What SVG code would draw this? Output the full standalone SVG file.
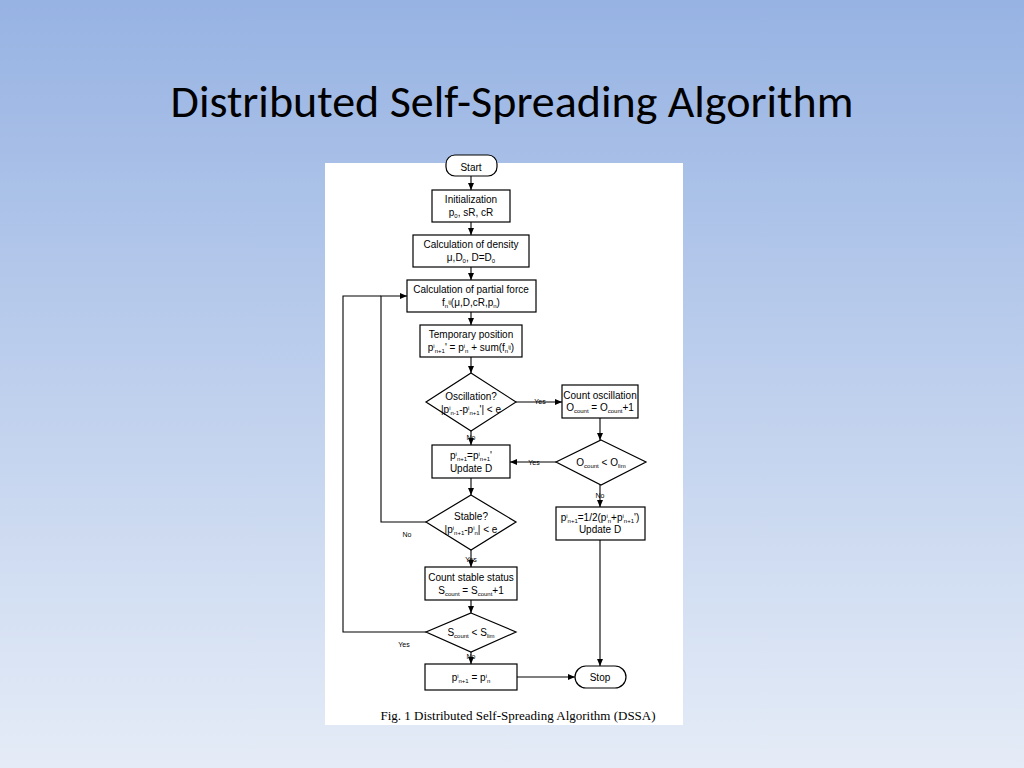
<svg xmlns="http://www.w3.org/2000/svg" width="1024" height="768" viewBox="0 0 1024 768">
<defs>
<linearGradient id="bg" x1="0" y1="0" x2="0" y2="1"><stop offset="0" stop-color="#97b3e3"/><stop offset="1" stop-color="#e5ecf7"/></linearGradient>
<marker id="ar" markerWidth="8" markerHeight="8" refX="7" refY="4" orient="auto" markerUnits="userSpaceOnUse"><path d="M0,1 L7,4 L0,7 z" fill="#000"/></marker>
<style>
.n{fill:#fff;stroke:#000;stroke-width:1.2}
.t{font-family:"Liberation Sans",Arial,sans-serif;font-size:10px;text-anchor:middle;fill:#000}
.s{font-family:"Liberation Sans",Arial,sans-serif;font-size:7px;text-anchor:middle;fill:#000}
.c{fill:none;stroke:#000;stroke-width:1.1}
sub,.sb{font-size:6px}
</style>
</defs>
<rect width="1024" height="768" fill="url(#bg)"/>
<text x="512" y="117" font-family="Calibri,Carlito,'Open Sans',sans-serif" font-size="46" text-anchor="middle" fill="#000">Distributed Self-Spreading Algorithm</text>
<rect x="325" y="163" width="358" height="562" fill="#fff"/>
<g id="connectors" class="c">
<line x1="471" y1="176" x2="471" y2="190" marker-end="url(#ar)"/>
<line x1="471" y1="222" x2="471" y2="235" marker-end="url(#ar)"/>
<line x1="471" y1="267" x2="471" y2="280" marker-end="url(#ar)"/>
<line x1="471" y1="312" x2="471" y2="325" marker-end="url(#ar)"/>
<line x1="471" y1="357" x2="471" y2="373" marker-end="url(#ar)"/>
<line x1="516" y1="402" x2="562" y2="402" marker-end="url(#ar)"/>
<line x1="471" y1="431" x2="471" y2="445" marker-end="url(#ar)"/>
<line x1="600" y1="418" x2="600" y2="440" marker-end="url(#ar)"/>
<line x1="556" y1="462" x2="510" y2="462" marker-end="url(#ar)"/>
<line x1="600" y1="485" x2="600" y2="507" marker-end="url(#ar)"/>
<line x1="471" y1="478" x2="471" y2="495" marker-end="url(#ar)"/>
<polyline points="426,522 381,522 381,296 407,296" marker-end="url(#ar)"/>
<line x1="471" y1="550" x2="471" y2="567" marker-end="url(#ar)"/>
<line x1="471" y1="600" x2="471" y2="613" marker-end="url(#ar)"/>
<polyline points="426,632 343,632 343,296 381,296"/>
<line x1="471" y1="652" x2="471" y2="664" marker-end="url(#ar)"/>
<line x1="517" y1="677" x2="575" y2="677" marker-end="url(#ar)"/>
<line x1="600" y1="540" x2="600" y2="666" marker-end="url(#ar)"/>
</g>
<g id="labels">
<text class="s" x="540" y="404" fill="#fff">Yes</text>
<text class="s" x="471" y="440">No</text>
<text class="s" x="534" y="465">Yes</text>
<text class="s" x="600" y="498">No</text>
<text class="s" x="407" y="537">No</text>
<text class="s" x="471" y="562">Yes</text>
<text class="s" x="404" y="647">Yes</text>
<text class="s" x="471" y="659">No</text>
</g>
<g id="start"><rect class="n" x="446" y="155" width="51" height="21" rx="9"/><text class="t" x="471" y="171">Start</text></g>
<g id="init"><rect class="n" x="432" y="190" width="78" height="32"/><text class="t" x="471" y="203">Initialization</text><text class="t" x="471" y="216">p<tspan class="sb" dy="2">0</tspan><tspan dy="-2">, sR, cR</tspan></text></g>
<g id="density"><rect class="n" x="413" y="235" width="116" height="32"/><text class="t" x="471" y="248">Calculation of density</text><text class="t" x="471" y="261">μ,D<tspan class="sb" dy="2">0</tspan><tspan dy="-2">, D=D</tspan><tspan class="sb" dy="2">0</tspan></text></g>
<g id="force"><rect class="n" x="407" y="280" width="129" height="32"/><text class="t" x="471" y="293">Calculation of partial force</text><text class="t" x="471" y="306">f<tspan class="sb" dy="2">n</tspan><tspan class="sb" dy="-4">ij</tspan><tspan dy="2">(μ,D,cR,p</tspan><tspan class="sb" dy="2">n</tspan><tspan dy="-2">)</tspan></text></g>
<g id="temp"><rect class="n" x="420" y="325" width="102" height="32"/><text class="t" x="471" y="338">Temporary position</text><text class="t" x="471" y="351">p<tspan class="sb" dy="-3">i</tspan><tspan class="sb" dy="5">n+1</tspan><tspan dy="-2">' = p</tspan><tspan class="sb" dy="-3">i</tspan><tspan class="sb" dy="5">n</tspan><tspan dy="-2"> + sum(f</tspan><tspan class="sb" dy="2">n</tspan><tspan class="sb" dy="-4">ij</tspan><tspan dy="2">)</tspan></text></g>
<g id="osc"><polygon class="n" points="471,373 516,402 471,431 426,402"/><text class="t" x="471" y="400">Oscillation?</text><text class="t" x="471" y="413">|p<tspan class="sb" dy="-3">i</tspan><tspan class="sb" dy="5">n-1</tspan><tspan dy="-2">-p</tspan><tspan class="sb" dy="-3">i</tspan><tspan class="sb" dy="5">n+1</tspan><tspan dy="-2">'| &lt; e</tspan></text></g>
<g id="countosc"><rect class="n" x="562" y="385" width="76" height="33"/><text class="t" x="600" y="399">Count oscillation</text><text class="t" x="600" y="411">O<tspan class="sb" dy="2">count</tspan><tspan dy="-2"> = O</tspan><tspan class="sb" dy="2">count</tspan><tspan dy="-2">+1</tspan></text></g>
<g id="update"><rect class="n" x="432" y="445" width="78" height="33"/><text class="t" x="471" y="459">p<tspan class="sb" dy="-3">i</tspan><tspan class="sb" dy="5">n+1</tspan><tspan dy="-2">=p</tspan><tspan class="sb" dy="-3">i</tspan><tspan class="sb" dy="5">n+1</tspan><tspan dy="-2">'</tspan></text><text class="t" x="471" y="472">Update D</text></g>
<g id="olim"><polygon class="n" points="601,440 646,462 601,485 556,462"/><text class="t" x="601" y="466">O<tspan class="sb" dy="2">count</tspan><tspan dy="-2"> &lt; O</tspan><tspan class="sb" dy="2">lim</tspan></text></g>
<g id="half"><rect class="n" x="556" y="507" width="89" height="33"/><text class="t" x="600" y="521">p<tspan class="sb" dy="-3">i</tspan><tspan class="sb" dy="5">n+1</tspan><tspan dy="-2">=1/2(p</tspan><tspan class="sb" dy="-3">i</tspan><tspan class="sb" dy="5">n</tspan><tspan dy="-2">+p</tspan><tspan class="sb" dy="-3">i</tspan><tspan class="sb" dy="5">n+1</tspan><tspan dy="-2">')</tspan></text><text class="t" x="600" y="533">Update D</text></g>
<g id="stable"><polygon class="n" points="471,495 516,522 471,550 426,522"/><text class="t" x="471" y="520">Stable?</text><text class="t" x="471" y="533">|p<tspan class="sb" dy="-3">i</tspan><tspan class="sb" dy="5">n+1</tspan><tspan dy="-2">-p</tspan><tspan class="sb" dy="-3">i</tspan><tspan class="sb" dy="5">n</tspan><tspan dy="-2">| &lt; e</tspan></text></g>
<g id="countstable"><rect class="n" x="425" y="567" width="92" height="33"/><text class="t" x="471" y="581">Count stable status</text><text class="t" x="471" y="594">S<tspan class="sb" dy="2">count</tspan><tspan dy="-2"> = S</tspan><tspan class="sb" dy="2">count</tspan><tspan dy="-2">+1</tspan></text></g>
<g id="slim"><polygon class="n" points="471,613 516,632 471,652 426,632"/><text class="t" x="471" y="636">S<tspan class="sb" dy="2">count</tspan><tspan dy="-2"> &lt; S</tspan><tspan class="sb" dy="2">lim</tspan></text></g>
<g id="final"><rect class="n" x="425" y="664" width="92" height="26"/><text class="t" x="471" y="681">p<tspan class="sb" dy="-3">i</tspan><tspan class="sb" dy="5">n+1</tspan><tspan dy="-2"> = p</tspan><tspan class="sb" dy="-3">i</tspan><tspan class="sb" dy="5">n</tspan></text></g>
<g id="stop"><rect class="n" x="575" y="666" width="51" height="22" rx="11"/><text class="t" x="600" y="681">Stop</text></g>
<text x="518" y="720" font-family="'Liberation Serif','Times New Roman',serif" font-size="13" text-anchor="middle">Fig. 1  Distributed Self-Spreading Algorithm (DSSA)</text>
</svg>
